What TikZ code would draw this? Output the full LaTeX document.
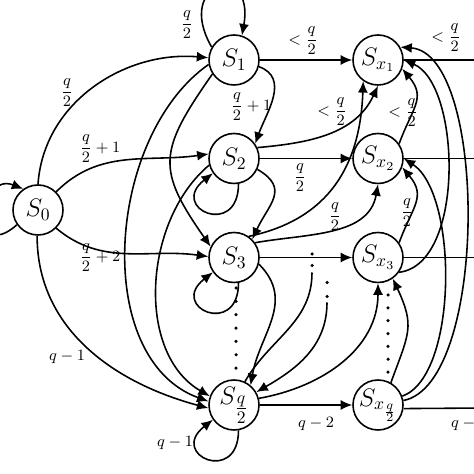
\documentclass[tikz,border=0pt]{standalone}
\usepackage{amsmath,amssymb}
\usepackage{tikz}
\usetikzlibrary{arrows.meta}

\begin{document}
\begin{tikzpicture}[
		state/.style={circle, draw, line width=0.9pt, minimum size=1cm, inner sep=0pt, font=\Large},
		lbl/.style={font=\small, inner sep=1pt},
		arrow/.style={-{Latex[length=2.3mm, width=2mm]}, line width=0.9pt},
		link/.style={line width=0.9pt}
	]
		\useasboundingbox (0,0) rectangle (9.48,9.48);
		\clip (0,0) rectangle (9.48,9.48);
		
		% States
		\node[state] (S0) at (0.76,5.28) {$S_0$};
		\node[state] (S1) at (4.68,8.28) {$S_1$};
		\node[state] (S2) at (4.68,6.31) {$S_2$};
		\node[state] (S3) at (4.68,4.33) {$S_3$};
		\node[state] (Sq) at (4.68,1.38) {$S_{\textstyle\frac{q}{2}}$};
		\node[state] (Sx1) at (7.56,8.28) {$S_{x_1}$};
		\node[state] (Sx2) at (7.56,6.31) {$S_{x_2}$};
		\node[state] (Sx3) at (7.56,4.33) {$S_{x_3}$};
		\node[state] (Sxq) at (7.56,1.38) {$S_{x_{\frac{q}{2}}}$};
		
		% Free ends
		\coordinate (o1) at (9.7,8.28);
		\coordinate (o2) at (9.7,6.31);
		\coordinate (o3) at (9.7,4.33);
		\coordinate (oq) at (9.7,1.32);
		\coordinate (dA) at (6.24,4.03);
		\coordinate (dB) at (6.54,3.43);
		
		% From S0
		\draw[arrow] (S0.215) .. controls +(-0.9,-0.8) and +(-0.9,0.35) .. (S0.125);
		\draw[arrow] (S0.north) to[out=86, in=175] (S1.175);
		\draw[arrow] (S0.45) to[out=45, in=188] (S2.170);
		\draw[arrow] (S0.-45) to[out=-40, in=172] (S3.178);
		\draw[arrow] (S0.-92) to[out=-90, in=165] (Sq.187);
		
		% From S1
		\draw[arrow] (S1.150) to[out=120, in=80, looseness=6] (S1.72);
		\draw[arrow] (S1) -- (Sx1);
		\draw[arrow] (S1.-15) to[out=-20, in=70, looseness=1.1] (S2.35);
		\draw[arrow] (S1.213) to[out=235, in=125, looseness=1.4] (S3.155);
		\draw[arrow] (S1.190) to[out=215, in=160, looseness=0.95] (Sq.172);
		
		% From S2
		\draw[arrow] (S2.-80) .. controls +(0,-1.1) and +(-0.9,-0.7) .. (S2.215);
		\draw[arrow] (S2) -- (Sx2);
		\draw[arrow] (S2.25) to[out=5, in=-115] (Sx1.south);
		\draw[arrow] (S2.-25) to[out=-30, in=65, looseness=1.4] (S3.45);
		\draw[arrow] (S2.195) to[out=220, in=150, looseness=0.95] (Sq.160);
		
		% From S3
		\draw[arrow] (S3.-80) .. controls +(0,-1.1) and +(-0.9,-0.7) .. (S3.215);
		\draw[arrow] (S3) -- (Sx3);
		\draw[arrow] (S3.55) to[out=12, in=-92, looseness=1.1] (Sx1.235);
		\draw[arrow] (S3.35) to[out=10, in=-100] (Sx2.south);
		\draw[arrow] (S3.-15) to[out=-45, in=80, looseness=1.1] (Sq.50);
		
		% From S_{q/2}
		\draw[arrow] (Sq.-80) .. controls +(0,-1.1) and +(-0.9,-0.7) .. (Sq.215);
		\draw[arrow] (Sq) -- (Sxq);
		\draw[arrow] (Sq.15) to[out=10, in=-90] (Sx3.south);
		\draw[link] (Sq.65) to[out=60, in=-90] (dA);
		\draw[arrow] (dB) to[out=-90, in=30] (Sq.30);
		
		% Between the S_x states
		\draw[arrow] (Sx2.35) to[out=70, in=-50, looseness=1.3] (Sx1.-20);
		\draw[arrow] (Sx3.35) to[out=70, in=-50, looseness=1.3] (Sx2.-20);
		\draw[arrow] (Sxq.60) to[out=70, in=-65, looseness=1.3] (Sx3.-55);
		\draw[arrow] (Sx3.-35) .. controls +(1.33,0.16) and +(1.14,-0.48) .. (Sx1.east);
		\draw[arrow] (Sxq.20) .. controls +(1.12,0.4) and +(1.09,-0.71) .. (Sx2.east);
		\draw[arrow] (Sxq.10) .. controls +(1.7,0.33) and +(1.76,-0.13) .. (Sx1.30);
		
		% Exits to the right
		\draw[link] (Sx1) -- (o1);
		\draw[link] (Sx2) -- (o2);
		\draw[link] (Sx3) -- (o3);
		\draw[link] (Sxq.-8) -- (oq);
		
		% Dots
		\foreach \k in {0,...,6} {
			\fill (4.72,3.72-0.267*\k) circle (0.035);
			\fill (7.76,3.58-0.257*\k) circle (0.035);
		}
		\fill (6.24,4.40) circle (0.035);
		\fill (6.24,4.17) circle (0.035);
		\fill (6.54,3.83) circle (0.035);
		\fill (6.54,3.55) circle (0.035);
		
		% Labels
		\node[lbl] (l01) at (1.34,7.62) {$\dfrac{q}{2}$};
		\node[lbl] (l02) at (2.0,6.5) {$\dfrac{q}{2}+1$};
		\node[lbl] (l03) at (2.0,4.32) {$\dfrac{q}{2}+2$};
		\node[lbl] (l0q) at (1.34,2.34) {$q-1$};
		\node[lbl] (l11) at (3.74,8.98) {$\dfrac{q}{2}$};
		\node[lbl] (l1x1) at (6.06,8.66) {$<\dfrac{q}{2}$};
		\node[lbl] (l12) at (5.02,7.34) {$\dfrac{q}{2}+1$};
		\node[lbl] (l2x1) at (6.64,7.24) {$<\dfrac{q}{2}$};
		\node[lbl] (l2x2) at (6.0,5.92) {$\dfrac{q}{2}$};
		\node[lbl] (l3x2) at (6.7,5.14) {$\dfrac{q}{2}$};
		\node[lbl] (lqq) at (3.5,0.62) {$q-1$};
		\node[lbl] (lqxq) at (6.32,1.0) {$q-2$};
		\node[lbl] (lx2x1) at (8.06,7.22) {$<\dfrac{q}{2}$};
		\node[lbl] (lx3x2) at (8.14,5.22) {$\dfrac{q}{2}$};
		\node[lbl] (lx1) at (8.92,8.72) {$<\dfrac{q}{2}$};
		\node[lbl, anchor=west] (lxq) at (8.98,1.0) {$q-1$};
	\end{tikzpicture}
\end{document}
